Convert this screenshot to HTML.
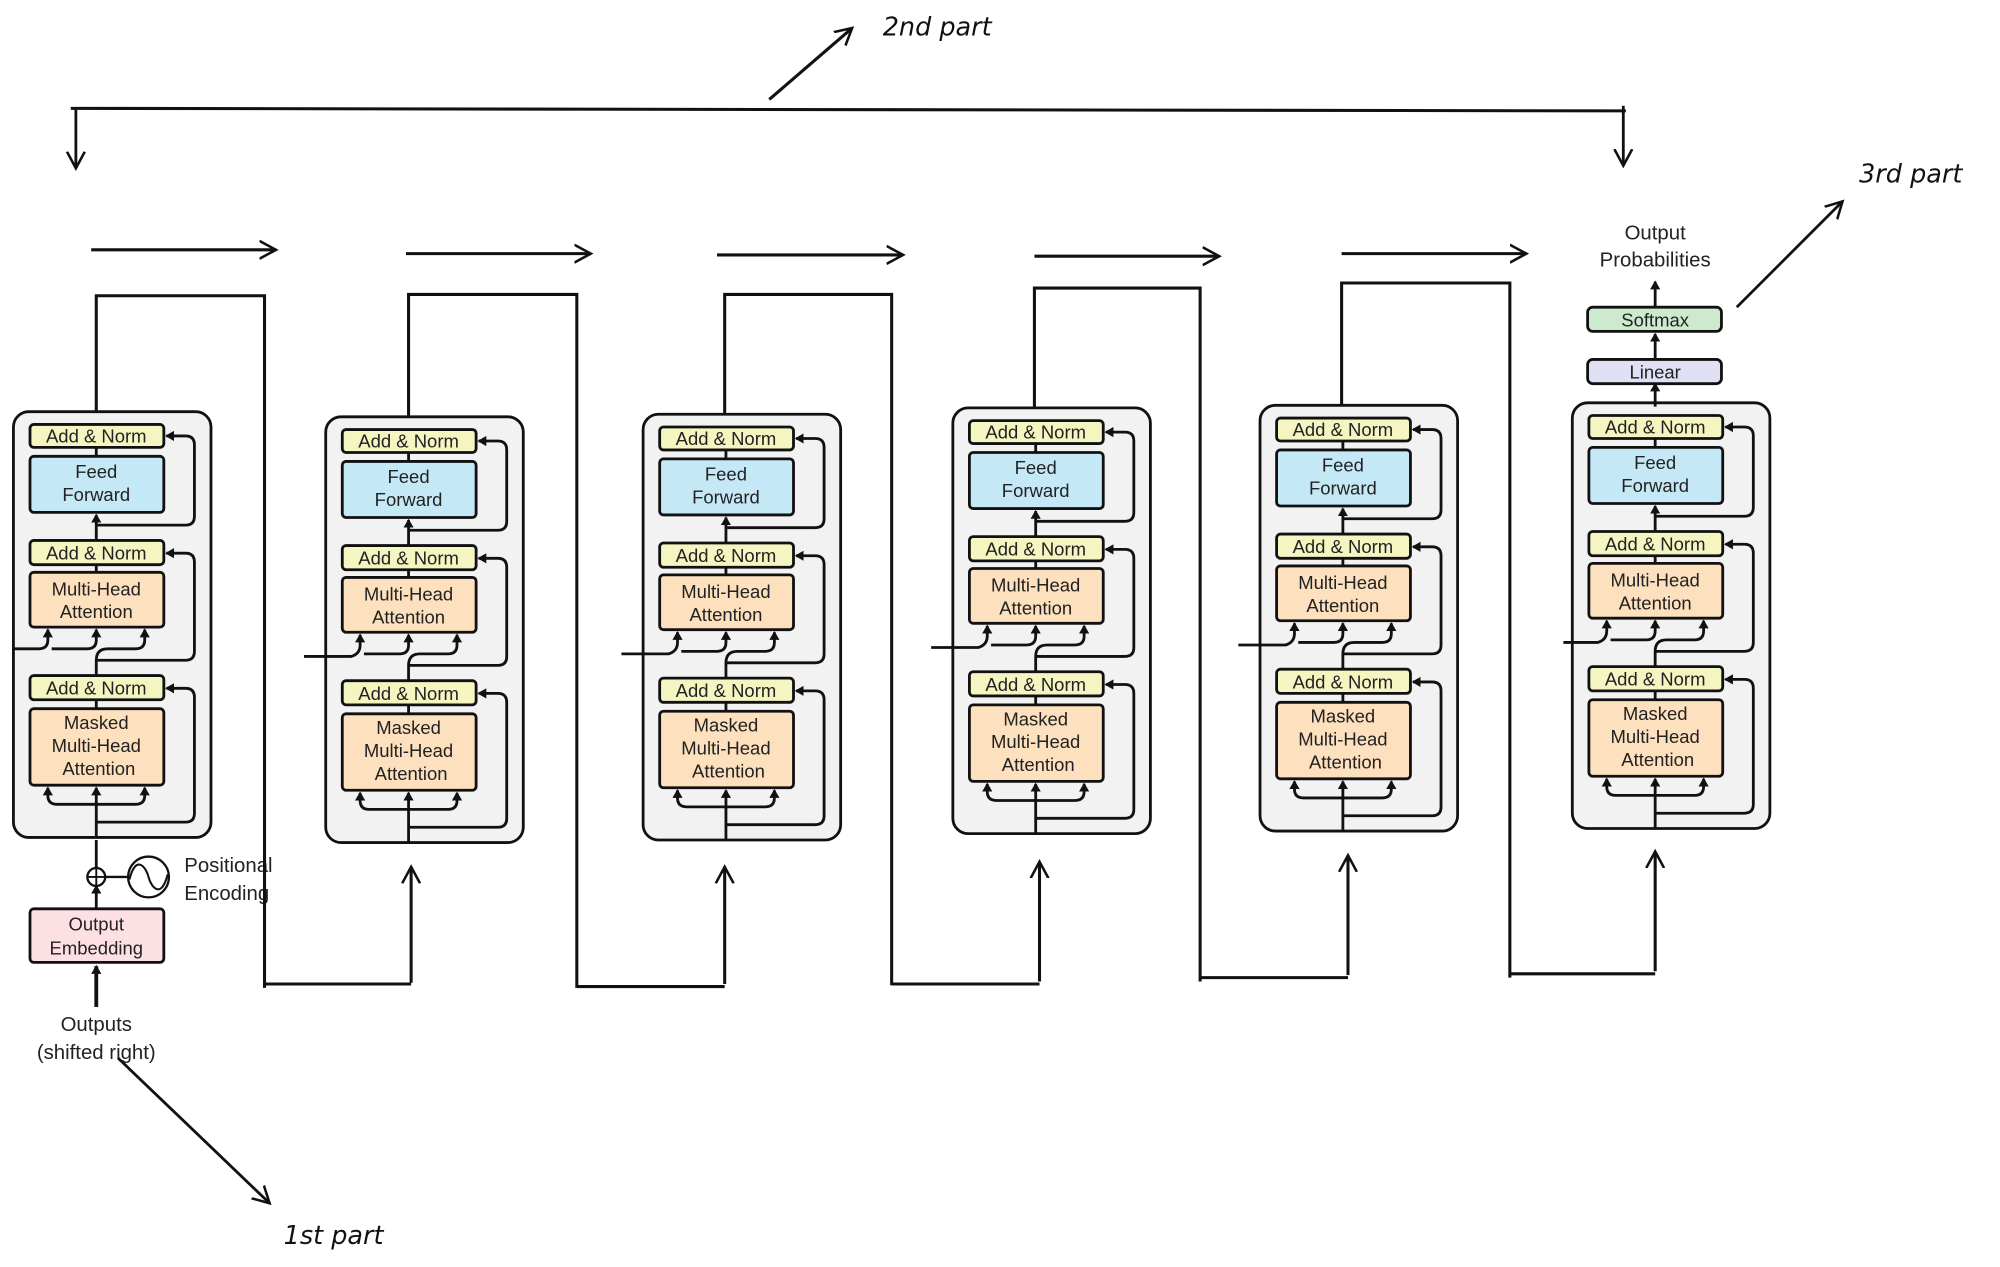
<!DOCTYPE html>
<html><head><meta charset="utf-8"><style>
html,body{margin:0;padding:0;background:#fff}
svg{display:block}
text{font-family:"Liberation Sans",sans-serif;font-size:14.5px;fill:#222;text-anchor:middle}
.h{font-family:"DejaVu Sans","Liberation Sans",sans-serif;font-size:20px;text-anchor:start;fill:#111;font-style:italic}
.o{fill:#f2f2f2;stroke:#111;stroke-width:2.2}
.b{stroke:#111;stroke-width:2.2}
.l{fill:none;stroke:#111;stroke-width:2.2}
.c{fill:none;stroke:#111;stroke-width:2.4}
</style></head><body>
<svg width="2000" height="1267" viewBox="0 0 1568 994" xmlns="http://www.w3.org/2000/svg">
<defs>
<marker id="a" markerWidth="8" markerHeight="8" refX="6" refY="4" orient="auto" markerUnits="userSpaceOnUse"><path d="M0,0 L7,4 L0,8 z" fill="#111"/></marker>
<marker id="o" markerWidth="16" markerHeight="16" refX="13" refY="8" orient="auto" markerUnits="userSpaceOnUse"><path d="M0,1 L13,8 L0,15" fill="none" stroke="#111" stroke-width="2"/></marker>
</defs>

<!-- block template repeated -->
<g id="b1">
<rect class="o" x="10" y="323" width="155" height="334" rx="12"/>
<path class="l" d="M75,657 V618" marker-end="url(#a)"/>
<path class="l" d="M75,631 H44 Q37,631 37,624 V618" marker-end="url(#a)"/>
<path class="l" d="M75,631 H106 Q113,631 113,624 V618" marker-end="url(#a)"/>
<path class="l" d="M75,645 H145 Q152,645 152,638 V547 Q152,540 145,540 H130" marker-end="url(#a)"/>
<path class="l" d="M75,556 V549 M75,530 V518 Q75,509 84,509 H106 Q113,509 113,502 V494" marker-end="url(#a)"/>
<path class="l" d="M10,509 H30 Q37,509 37,502 V494" marker-end="url(#a)"/>
<path class="l" d="M40,509 H68 Q75,509 75,502 V494" marker-end="url(#a)"/>
<path class="l" d="M75,518 H145 Q152,518 152,511 V441 Q152,434 145,434 H130" marker-end="url(#a)"/>
<path class="l" d="M75,449 V443 M75,424 V404" marker-end="url(#a)"/>
<path class="l" d="M75,412 H145 Q152,412 152,405 V349 Q152,342 145,342 H130" marker-end="url(#a)"/>
<path class="l" d="M75,358 V351"/>
<rect class="b" x="23" y="333" width="105" height="18" rx="3" fill="#f4f5c0"/><text x="75" y="347">Add &amp; Norm</text>
<rect class="b" x="23" y="358" width="105" height="44" rx="3" fill="#c5e8f7"/><text x="75" y="375">Feed</text><text x="75" y="393">Forward</text>
<rect class="b" x="23" y="424" width="105" height="19" rx="3" fill="#f4f5c0"/><text x="75" y="439">Add &amp; Norm</text>
<rect class="b" x="23" y="449" width="105" height="43" rx="3" fill="#fde0bd"/><text x="75" y="467">Multi-Head</text><text x="75" y="485">Attention</text>
<rect class="b" x="23" y="530" width="105" height="19" rx="3" fill="#f4f5c0"/><text x="75" y="545">Add &amp; Norm</text>
<rect class="b" x="23" y="556" width="105" height="60" rx="3" fill="#fde0bd"/><text x="75" y="572">Masked</text><text x="75" y="590">Multi-Head</text><text x="77" y="608">Attention</text>
</g>
<g transform="translate(245,4)">
<rect class="o" x="10" y="323" width="155" height="334" rx="12"/>
<path class="l" d="M75,657 V618" marker-end="url(#a)"/>
<path class="l" d="M75,631 H44 Q37,631 37,624 V618" marker-end="url(#a)"/>
<path class="l" d="M75,631 H106 Q113,631 113,624 V618" marker-end="url(#a)"/>
<path class="l" d="M75,645 H145 Q152,645 152,638 V547 Q152,540 145,540 H130" marker-end="url(#a)"/>
<path class="l" d="M75,556 V549 M75,530 V518 Q75,509 84,509 H106 Q113,509 113,502 V494" marker-end="url(#a)"/>
<path class="l" d="M-7,511 H30 Q37,509 37,502 V494" marker-end="url(#a)"/>
<path class="l" d="M40,509 H68 Q75,509 75,502 V494" marker-end="url(#a)"/>
<path class="l" d="M75,518 H145 Q152,518 152,511 V441 Q152,434 145,434 H130" marker-end="url(#a)"/>
<path class="l" d="M75,449 V443 M75,424 V404" marker-end="url(#a)"/>
<path class="l" d="M75,412 H145 Q152,412 152,405 V349 Q152,342 145,342 H130" marker-end="url(#a)"/>
<path class="l" d="M75,358 V351"/>
<rect class="b" x="23" y="333" width="105" height="18" rx="3" fill="#f4f5c0"/><text x="75" y="347">Add &amp; Norm</text>
<rect class="b" x="23" y="358" width="105" height="44" rx="3" fill="#c5e8f7"/><text x="75" y="375">Feed</text><text x="75" y="393">Forward</text>
<rect class="b" x="23" y="424" width="105" height="19" rx="3" fill="#f4f5c0"/><text x="75" y="439">Add &amp; Norm</text>
<rect class="b" x="23" y="449" width="105" height="43" rx="3" fill="#fde0bd"/><text x="75" y="467">Multi-Head</text><text x="75" y="485">Attention</text>
<rect class="b" x="23" y="530" width="105" height="19" rx="3" fill="#f4f5c0"/><text x="75" y="545">Add &amp; Norm</text>
<rect class="b" x="23" y="556" width="105" height="60" rx="3" fill="#fde0bd"/><text x="75" y="572">Masked</text><text x="75" y="590">Multi-Head</text><text x="77" y="608">Attention</text>
</g>
<g transform="translate(494,2)">
<rect class="o" x="10" y="323" width="155" height="334" rx="12"/>
<path class="l" d="M75,657 V618" marker-end="url(#a)"/>
<path class="l" d="M75,631 H44 Q37,631 37,624 V618" marker-end="url(#a)"/>
<path class="l" d="M75,631 H106 Q113,631 113,624 V618" marker-end="url(#a)"/>
<path class="l" d="M75,645 H145 Q152,645 152,638 V547 Q152,540 145,540 H130" marker-end="url(#a)"/>
<path class="l" d="M75,556 V549 M75,530 V518 Q75,509 84,509 H106 Q113,509 113,502 V494" marker-end="url(#a)"/>
<path class="l" d="M-7,511 H30 Q37,509 37,502 V494" marker-end="url(#a)"/>
<path class="l" d="M40,509 H68 Q75,509 75,502 V494" marker-end="url(#a)"/>
<path class="l" d="M75,518 H145 Q152,518 152,511 V441 Q152,434 145,434 H130" marker-end="url(#a)"/>
<path class="l" d="M75,449 V443 M75,424 V404" marker-end="url(#a)"/>
<path class="l" d="M75,412 H145 Q152,412 152,405 V349 Q152,342 145,342 H130" marker-end="url(#a)"/>
<path class="l" d="M75,358 V351"/>
<rect class="b" x="23" y="333" width="105" height="18" rx="3" fill="#f4f5c0"/><text x="75" y="347">Add &amp; Norm</text>
<rect class="b" x="23" y="358" width="105" height="44" rx="3" fill="#c5e8f7"/><text x="75" y="375">Feed</text><text x="75" y="393">Forward</text>
<rect class="b" x="23" y="424" width="105" height="19" rx="3" fill="#f4f5c0"/><text x="75" y="439">Add &amp; Norm</text>
<rect class="b" x="23" y="449" width="105" height="43" rx="3" fill="#fde0bd"/><text x="75" y="467">Multi-Head</text><text x="75" y="485">Attention</text>
<rect class="b" x="23" y="530" width="105" height="19" rx="3" fill="#f4f5c0"/><text x="75" y="545">Add &amp; Norm</text>
<rect class="b" x="23" y="556" width="105" height="60" rx="3" fill="#fde0bd"/><text x="75" y="572">Masked</text><text x="75" y="590">Multi-Head</text><text x="77" y="608">Attention</text>
</g>
<g transform="translate(737,-3)">
<rect class="o" x="10" y="323" width="155" height="334" rx="12"/>
<path class="l" d="M75,657 V618" marker-end="url(#a)"/>
<path class="l" d="M75,631 H44 Q37,631 37,624 V618" marker-end="url(#a)"/>
<path class="l" d="M75,631 H106 Q113,631 113,624 V618" marker-end="url(#a)"/>
<path class="l" d="M75,645 H145 Q152,645 152,638 V547 Q152,540 145,540 H130" marker-end="url(#a)"/>
<path class="l" d="M75,556 V549 M75,530 V518 Q75,509 84,509 H106 Q113,509 113,502 V494" marker-end="url(#a)"/>
<path class="l" d="M-7,511 H30 Q37,509 37,502 V494" marker-end="url(#a)"/>
<path class="l" d="M40,509 H68 Q75,509 75,502 V494" marker-end="url(#a)"/>
<path class="l" d="M75,518 H145 Q152,518 152,511 V441 Q152,434 145,434 H130" marker-end="url(#a)"/>
<path class="l" d="M75,449 V443 M75,424 V404" marker-end="url(#a)"/>
<path class="l" d="M75,412 H145 Q152,412 152,405 V349 Q152,342 145,342 H130" marker-end="url(#a)"/>
<path class="l" d="M75,358 V351"/>
<rect class="b" x="23" y="333" width="105" height="18" rx="3" fill="#f4f5c0"/><text x="75" y="347">Add &amp; Norm</text>
<rect class="b" x="23" y="358" width="105" height="44" rx="3" fill="#c5e8f7"/><text x="75" y="375">Feed</text><text x="75" y="393">Forward</text>
<rect class="b" x="23" y="424" width="105" height="19" rx="3" fill="#f4f5c0"/><text x="75" y="439">Add &amp; Norm</text>
<rect class="b" x="23" y="449" width="105" height="43" rx="3" fill="#fde0bd"/><text x="75" y="467">Multi-Head</text><text x="75" y="485">Attention</text>
<rect class="b" x="23" y="530" width="105" height="19" rx="3" fill="#f4f5c0"/><text x="75" y="545">Add &amp; Norm</text>
<rect class="b" x="23" y="556" width="105" height="60" rx="3" fill="#fde0bd"/><text x="75" y="572">Masked</text><text x="75" y="590">Multi-Head</text><text x="77" y="608">Attention</text>
</g>
<g transform="translate(978,-5)">
<rect class="o" x="10" y="323" width="155" height="334" rx="12"/>
<path class="l" d="M75,657 V618" marker-end="url(#a)"/>
<path class="l" d="M75,631 H44 Q37,631 37,624 V618" marker-end="url(#a)"/>
<path class="l" d="M75,631 H106 Q113,631 113,624 V618" marker-end="url(#a)"/>
<path class="l" d="M75,645 H145 Q152,645 152,638 V547 Q152,540 145,540 H130" marker-end="url(#a)"/>
<path class="l" d="M75,556 V549 M75,530 V518 Q75,509 84,509 H106 Q113,509 113,502 V494" marker-end="url(#a)"/>
<path class="l" d="M-7,511 H30 Q37,509 37,502 V494" marker-end="url(#a)"/>
<path class="l" d="M40,509 H68 Q75,509 75,502 V494" marker-end="url(#a)"/>
<path class="l" d="M75,518 H145 Q152,518 152,511 V441 Q152,434 145,434 H130" marker-end="url(#a)"/>
<path class="l" d="M75,449 V443 M75,424 V404" marker-end="url(#a)"/>
<path class="l" d="M75,412 H145 Q152,412 152,405 V349 Q152,342 145,342 H130" marker-end="url(#a)"/>
<path class="l" d="M75,358 V351"/>
<rect class="b" x="23" y="333" width="105" height="18" rx="3" fill="#f4f5c0"/><text x="75" y="347">Add &amp; Norm</text>
<rect class="b" x="23" y="358" width="105" height="44" rx="3" fill="#c5e8f7"/><text x="75" y="375">Feed</text><text x="75" y="393">Forward</text>
<rect class="b" x="23" y="424" width="105" height="19" rx="3" fill="#f4f5c0"/><text x="75" y="439">Add &amp; Norm</text>
<rect class="b" x="23" y="449" width="105" height="43" rx="3" fill="#fde0bd"/><text x="75" y="467">Multi-Head</text><text x="75" y="485">Attention</text>
<rect class="b" x="23" y="530" width="105" height="19" rx="3" fill="#f4f5c0"/><text x="75" y="545">Add &amp; Norm</text>
<rect class="b" x="23" y="556" width="105" height="60" rx="3" fill="#fde0bd"/><text x="75" y="572">Masked</text><text x="75" y="590">Multi-Head</text><text x="77" y="608">Attention</text>
</g>
<g transform="translate(1223,-7)">
<rect class="o" x="10" y="323" width="155" height="334" rx="12"/>
<path class="l" d="M75,657 V618" marker-end="url(#a)"/>
<path class="l" d="M75,631 H44 Q37,631 37,624 V618" marker-end="url(#a)"/>
<path class="l" d="M75,631 H106 Q113,631 113,624 V618" marker-end="url(#a)"/>
<path class="l" d="M75,645 H145 Q152,645 152,638 V547 Q152,540 145,540 H130" marker-end="url(#a)"/>
<path class="l" d="M75,556 V549 M75,530 V518 Q75,509 84,509 H106 Q113,509 113,502 V494" marker-end="url(#a)"/>
<path class="l" d="M3,511 H30 Q37,509 37,502 V494" marker-end="url(#a)"/>
<path class="l" d="M40,509 H68 Q75,509 75,502 V494" marker-end="url(#a)"/>
<path class="l" d="M75,518 H145 Q152,518 152,511 V441 Q152,434 145,434 H130" marker-end="url(#a)"/>
<path class="l" d="M75,449 V443 M75,424 V404" marker-end="url(#a)"/>
<path class="l" d="M75,412 H145 Q152,412 152,405 V349 Q152,342 145,342 H130" marker-end="url(#a)"/>
<path class="l" d="M75,358 V351"/>
<rect class="b" x="23" y="333" width="105" height="18" rx="3" fill="#f4f5c0"/><text x="75" y="347">Add &amp; Norm</text>
<rect class="b" x="23" y="358" width="105" height="44" rx="3" fill="#c5e8f7"/><text x="75" y="375">Feed</text><text x="75" y="393">Forward</text>
<rect class="b" x="23" y="424" width="105" height="19" rx="3" fill="#f4f5c0"/><text x="75" y="439">Add &amp; Norm</text>
<rect class="b" x="23" y="449" width="105" height="43" rx="3" fill="#fde0bd"/><text x="75" y="467">Multi-Head</text><text x="75" y="485">Attention</text>
<rect class="b" x="23" y="530" width="105" height="19" rx="3" fill="#f4f5c0"/><text x="75" y="545">Add &amp; Norm</text>
<rect class="b" x="23" y="556" width="105" height="60" rx="3" fill="#fde0bd"/><text x="75" y="572">Masked</text><text x="75" y="590">Multi-Head</text><text x="77" y="608">Attention</text>
<!-- head -->
<path class="l" d="M75,326 V308" marker-end="url(#a)"/>
<path class="l" d="M75,289 V269" marker-end="url(#a)"/>
<path class="l" d="M75,248 V228" marker-end="url(#a)"/>
<rect class="b" x="22" y="289" width="105" height="19" rx="4" fill="#dfe0f3"/><text x="75" y="304">Linear</text>
<rect class="b" x="22" y="248" width="105" height="19" rx="4" fill="#cdeacf"/><text x="75" y="263">Softmax</text>
<text x="75" y="195" style="font-size:16px">Output</text><text x="75" y="216" style="font-size:16px">Probabilities</text>
</g>

<!-- block1 extras -->
<path class="l" d="M75,713 V695" marker-end="url(#a)"/>
<path class="l" d="M75,681 V659"/>
<circle cx="75" cy="688" r="7" fill="#fff" stroke="#111" stroke-width="1.8"/>
<path d="M68,688 H82 M75,681 V695" stroke="#111" stroke-width="1.5"/>
<path d="M82,688 H100" stroke="#111" stroke-width="1.8"/>
<circle cx="116" cy="688" r="16" fill="#fff" stroke="#111" stroke-width="1.8"/>
<path d="M101,690 C106,670 114,680 116,688 C118,696 126,706 131,686" fill="none" stroke="#111" stroke-width="1.6"/>
<text x="144" y="684" style="text-anchor:start;font-size:16px">Positional</text>
<text x="144" y="706" style="text-anchor:start;font-size:16px">Encoding</text>
<rect class="b" x="23" y="713" width="105" height="42" rx="3" fill="#fde0e3"/><text x="75" y="730">Output</text><text x="75" y="749">Embedding</text>
<path class="l" d="M75,790 V758" marker-end="url(#a)" style="stroke-width:3"/>
<text x="75" y="809" style="font-size:16px">Outputs</text><text x="75" y="831" style="font-size:16px">(shifted right)</text>

<!-- inter-block connectors -->
<path class="c" d="M75,323 V232 H207 V775 M207,772 H322"/>
<path class="c" d="M322,771 V680" marker-end="url(#o)"/>
<path class="c" d="M320,327 V231 H452 V775 M452,774 H568"/>
<path class="c" d="M568,772 V680" marker-end="url(#o)"/>
<path class="c" d="M568,325 V231 H699 V773 M699,772 H815"/>
<path class="c" d="M815,770 V676" marker-end="url(#o)"/>
<path class="c" d="M811,320 V226 H941 V770 M941,767 H1057"/>
<path class="c" d="M1057,765 V671" marker-end="url(#o)"/>
<path class="c" d="M1052,318 V222 H1184 V767 M1184,764 H1298"/>
<path class="c" d="M1298,762 V668" marker-end="url(#o)"/>

<!-- horizontal arrows -->
<path class="c" d="M71,196 H216" marker-end="url(#o)"/>
<path class="c" d="M318,199 H463" marker-end="url(#o)"/>
<path class="c" d="M562,200 H708" marker-end="url(#o)"/>
<path class="c" d="M811,201 H956" marker-end="url(#o)"/>
<path class="c" d="M1052,199 H1197" marker-end="url(#o)"/>

<!-- top bracket -->
<path class="c" d="M55,85 L1275,87"/>
<path class="l" d="M59,85 V132" marker-end="url(#o)"/>
<path class="l" d="M1273,83 V130" marker-end="url(#o)"/>
<path class="c" d="M603,78 L668,22" marker-end="url(#o)"/>
<text class="h" x="692" y="28">2nd part</text>
<path class="l" d="M1362,241 L1445,158" marker-end="url(#o)"/>
<text class="h" x="1458" y="143">3rd part</text>
<path class="l" d="M92,830 L211,944" marker-end="url(#o)"/>
<text class="h" x="222" y="976">1st part</text>
</svg>
</body></html>
